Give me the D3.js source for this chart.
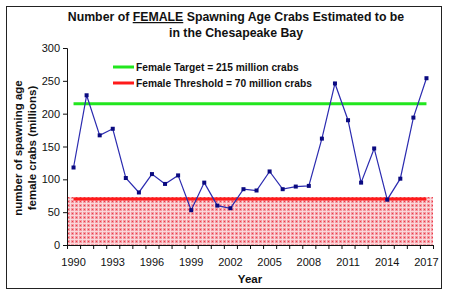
<!DOCTYPE html>
<html>
<head>
<meta charset="utf-8">
<script src="https://cdn.jsdelivr.net/npm/d3@7"></script>
<style>
  body { margin: 0; background: #fff; }
  svg { display: block; font-family: Arial, "Liberation Sans", sans-serif; }
</style>
</head>
<body>
<svg id="chart" width="449" height="297"></svg>
<script>
// data
const years = d3.range(1990, 2018).map(String);
const females = [118, 228, 167, 177, 102, 80, 108, 93, 106, 53, 95, 60, 56, 85, 83,
  112, 85, 89, 90, 162, 246, 190, 95, 147, 69, 101, 194, 254];
const yTicks = [0, 50, 100, 150, 200, 250, 300];
const xLabelYears = ["1990", "1993", "1996", "1999", "2002", "2005", "2008", "2011", "2014", "2017"];
const targetValue = 215;
const thresholdValue = 70;
const zoneTop = 73; // top of hatched band

const svg = d3.select("#chart");
const margin = { left: 67, right: 16, top: 48, bottom: 52 };
const W = 449, H = 297;
const innerW = W - margin.left - margin.right;
const innerH = H - margin.top - margin.bottom;

// hatch pattern for the danger band
const defs = svg.append("defs");
const pat = defs.append("pattern")
  .attr("id", "hatch")
  .attr("width", 4).attr("height", 4)
  .attr("patternUnits", "userSpaceOnUse");
pat.append("rect").attr("width", 4).attr("height", 4).attr("fill", "#f39aa2");
pat.append("rect").attr("x", 0).attr("y", 3).attr("width", 4).attr("height", 1).attr("fill", "#fbd8db");
pat.append("rect").attr("x", 3).attr("y", 0).attr("width", 1).attr("height", 4).attr("fill", "#fbd8db");
pat.append("rect").attr("x", 1).attr("y", 1).attr("width", 1).attr("height", 1).attr("fill", "#ee3a48");

// outer frame
svg.append("rect")
  .attr("x", 6.5).attr("y", 6.5).attr("width", 435).attr("height", 282)
  .attr("fill", "#fff").attr("stroke", "#222").attr("stroke-width", 1);

// title
const title = svg.append("text")
  .attr("x", 236).attr("y", 21)
  .attr("text-anchor", "middle")
  .attr("font-size", 12.3).attr("font-weight", "bold").attr("fill", "#111");
title.append("tspan").text("Number of ");
title.append("tspan").attr("text-decoration", "underline").text("FEMALE");
title.append("tspan").text(" Spawning Age Crabs Estimated to be");
svg.append("text")
  .attr("x", 236).attr("y", 37)
  .attr("text-anchor", "middle")
  .attr("font-size", 12.3).attr("font-weight", "bold").attr("fill", "#111")
  .text("in the Chesapeake Bay");

const g = svg.append("g").attr("transform", `translate(${margin.left},${margin.top})`);

const x = d3.scaleBand().domain(years).range([0, innerW]);
const y = d3.scaleLinear().domain([0, 300]).range([innerH, 0]);
const cx = (d) => x(d) + x.bandwidth() / 2;

// hatched band
g.append("rect")
  .attr("x", 0).attr("y", y(zoneTop))
  .attr("width", innerW).attr("height", y(0) - y(zoneTop))
  .attr("fill", "url(#hatch)");

// target and threshold lines
g.append("line")
  .attr("x1", cx(years[0])).attr("x2", cx(years[years.length - 1]))
  .attr("y1", y(targetValue)).attr("y2", y(targetValue))
  .attr("stroke", "#22e61e").attr("stroke-width", 3);
g.append("line")
  .attr("x1", cx(years[0])).attr("x2", cx(years[years.length - 1]))
  .attr("y1", y(thresholdValue)).attr("y2", y(thresholdValue))
  .attr("stroke", "#ff1a1a").attr("stroke-width", 3);

// data line
const line = d3.line().x((d, i) => cx(years[i])).y((d) => y(d));
g.append("path")
  .datum(females)
  .attr("fill", "none")
  .attr("stroke", "#2b2bb0")
  .attr("stroke-width", 1.2)
  .attr("d", line);
g.selectAll("rect.pt")
  .data(females)
  .join("rect")
  .attr("class", "pt")
  .attr("x", (d, i) => cx(years[i]) - 2)
  .attr("y", (d) => y(d) - 2)
  .attr("width", 4).attr("height", 4)
  .attr("fill", "#0a0a80");

// y axis
const yAxis = g.append("g")
  .call(d3.axisLeft(y).tickValues(yTicks).tickSize(4).tickPadding(3));
yAxis.select(".domain").attr("stroke", "#111").attr("d", `M-4,0.5H0.5V${innerH}`);
yAxis.selectAll("line").attr("stroke", "#111");
yAxis.selectAll("text").attr("font-size", 11).attr("fill", "#111")
  .attr("font-family", "Arial, 'Liberation Sans', sans-serif");

// x axis: ticks between categories, labels every 3 years
const xAxis = g.append("g").attr("transform", `translate(0,${innerH})`);
xAxis.append("line").attr("x1", 0).attr("x2", innerW).attr("y1", 0.5).attr("y2", 0.5)
  .attr("stroke", "#111");
xAxis.selectAll("line.tk")
  .data(years.concat(["end"]))
  .join("line")
  .attr("class", "tk")
  .attr("x1", (d, i) => (i < years.length ? x(d) : innerW) + 0.5)
  .attr("x2", (d, i) => (i < years.length ? x(d) : innerW) + 0.5)
  .attr("y1", 0).attr("y2", 4)
  .attr("stroke", "#111");
xAxis.selectAll("text")
  .data(xLabelYears)
  .join("text")
  .attr("x", (d) => cx(d))
  .attr("y", 21)
  .attr("text-anchor", "middle")
  .attr("font-size", 11).attr("fill", "#111")
  .text((d) => d);

// axis titles
svg.append("text")
  .attr("x", 250).attr("y", 283)
  .attr("text-anchor", "middle")
  .attr("font-size", 11.5).attr("font-weight", "bold").attr("fill", "#111")
  .text("Year");
const yl = svg.append("text")
  .attr("transform", "translate(22,148) rotate(-90)")
  .attr("text-anchor", "middle")
  .attr("font-size", 11.5).attr("font-weight", "bold").attr("fill", "#111");
yl.append("tspan").attr("x", 0).attr("dy", 0).text("number of spawning age");
yl.append("tspan").attr("x", 0).attr("dy", 14).text("female crabs (millions)");

// legend
const legend = [
  { label: "Female Target = 215 million crabs", color: "#22e61e" },
  { label: "Female Threshold = 70 million crabs", color: "#ff1a1a" }
];
const lg = svg.append("g").attr("transform", "translate(113,67)");
legend.forEach((d, i) => {
  lg.append("line")
    .attr("x1", 0).attr("x2", 21)
    .attr("y1", i * 16).attr("y2", i * 16)
    .attr("stroke", d.color).attr("stroke-width", 3);
  lg.append("text")
    .attr("x", 23).attr("y", i * 16 + 4)
    .attr("font-size", 10.2).attr("font-weight", "bold").attr("fill", "#111")
    .text(d.label);
});
</script>
</body>
</html>
